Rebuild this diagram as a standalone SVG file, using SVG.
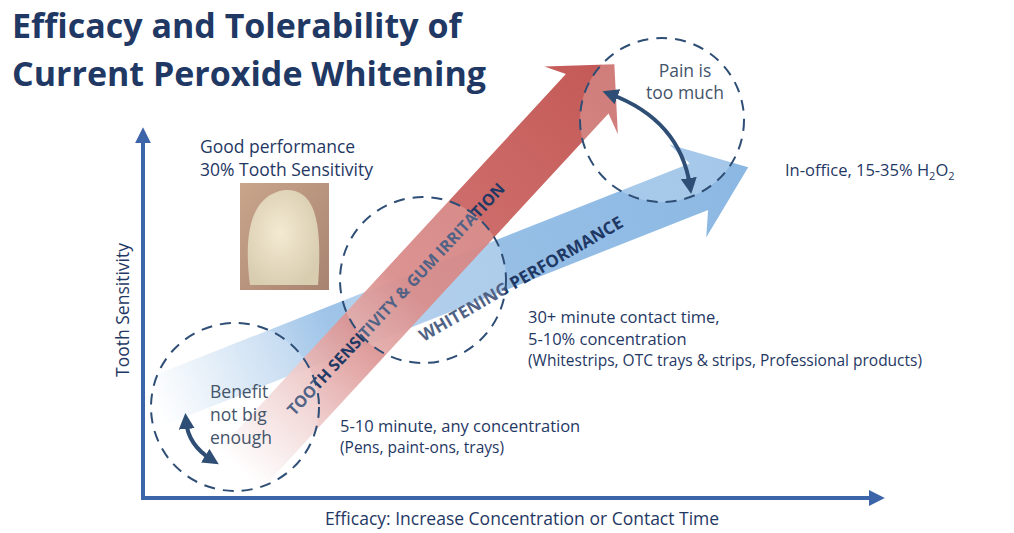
<svg xmlns="http://www.w3.org/2000/svg" width="1014" height="533" viewBox="0 0 1014 533">
<style>
.t{font-family:"Open Sans","Noto Sans",sans-serif;fill:#1f3864}
.g{font-family:"Open Sans","Noto Sans",sans-serif;fill:#44546a}
.c{fill:#ffffff;fill-opacity:0.22;stroke:#2f4e75;stroke-width:2;stroke-dasharray:11 8}
.d{fill:none;stroke:#2f4e75;stroke-width:4;marker-start:url(#m);marker-end:url(#m)}
</style>
<defs>
<linearGradient id="rg" x1="0" y1="0" x2="552" y2="0" gradientUnits="userSpaceOnUse"><stop offset="0" stop-color="#ffffff"/><stop offset="0.45" stop-color="#cf6e6c"/><stop offset="1" stop-color="#c0504d"/></linearGradient>
<linearGradient id="bg" x1="0" y1="0" x2="638" y2="0" gradientUnits="userSpaceOnUse"><stop offset="0" stop-color="#ffffff"/><stop offset="0.3" stop-color="#9fc4e8"/><stop offset="1" stop-color="#8bb8e3"/></linearGradient>
<linearGradient id="tooth" x1="0" y1="0" x2="1" y2="1"><stop offset="0" stop-color="#c9a58c"/><stop offset="1" stop-color="#a88470"/></linearGradient>
<radialGradient id="te" cx="0.45" cy="0.45" r="0.6"><stop offset="0" stop-color="#f3ead2"/><stop offset="1" stop-color="#d9cdb0"/></radialGradient>
<marker id="m" viewBox="0 0 10 10" refX="5" refY="5" markerWidth="4" markerHeight="4" orient="auto-start-reverse"><path d="M0,0 L10,5 L0,10 z" fill="#2f4e75"/></marker>
<marker id="ax" viewBox="0 0 10 10" refX="2" refY="5" markerWidth="4" markerHeight="4" orient="auto"><path d="M0,0 L10,5 L0,10 z" fill="#3c64a8"/></marker>
</defs>
<rect width="1014" height="533" fill="#ffffff"/>
<text class="t" x="12" y="38" font-size="34" font-weight="bold">Efficacy and Tolerability of</text>
<text class="t" x="12" y="86" font-size="34" font-weight="bold">Current Peroxide Whitening</text>
<g id="axes">
<line x1="143" y1="498" x2="143" y2="140" stroke="#3c64a8" stroke-width="4" marker-end="url(#ax)"/>
<line x1="141" y1="498" x2="872" y2="498" stroke="#3c64a8" stroke-width="4" marker-end="url(#ax)"/>
<text class="t" x="0" y="0" font-size="17.5" text-anchor="middle" transform="translate(129,310) rotate(-90)">Tooth Sensitivity</text>
<text class="t" x="522" y="525" font-size="17.5" text-anchor="middle">Efficacy: Increase Concentration or Contact Time</text>
</g>
<g id="blue-arrow">
<polygon transform="translate(155,402) rotate(-21.6)" points="0,-25 585,-25 573,-50 638,0 573,50 585,25 0,25" fill="url(#bg)"/>
<text class="t" font-size="17" font-weight="bold" text-anchor="middle" transform="translate(524,284) rotate(-30)">WHITENING PERFORMANCE</text>
</g>
<g id="red-arrow">
<polygon transform="translate(240,470) rotate(-47.3)" points="0,-29 512,-29 503,-50 552,0 503,50 512,29 0,29" fill="url(#rg)" fill-opacity="0.95"/>
<text class="t" font-size="16" font-weight="bold" text-anchor="middle" transform="translate(400,303) rotate(-47)">TOOTH SENSITIVITY &amp; GUM IRRITATION</text>
</g>
<g id="tooth-img">
<rect x="240" y="183" width="89" height="107" fill="url(#tooth)"/>
<path d="M250,285 C244,240 248,195 285,190 C318,188 322,230 318,285 Z" fill="url(#te)"/>
<text class="t" x="200" y="153" font-size="17.5">Good performance</text>
<text class="t" x="200" y="176" font-size="17.5">30% Tooth Sensitivity</text>
</g>
<g id="circle-low">
<circle class="c" cx="235" cy="407" r="84"/>
<text class="g" x="210" y="398" font-size="17.5">Benefit</text>
<text class="g" x="210" y="421" font-size="17.5">not big</text>
<text class="g" x="210" y="444" font-size="17.5">enough</text>
</g>
<g id="circle-mid"><circle class="c" cx="423" cy="280" r="83"/></g>
<g id="circle-high">
<circle class="c" cx="662" cy="120" r="82"/>
<text class="g" x="685" y="77" font-size="17.5" text-anchor="middle">Pain is</text>
<text class="g" x="685" y="99" font-size="17.5" text-anchor="middle">too much</text>
</g>
<g id="connectors">
<path class="d" d="M186,421 Q188,445 212,460"/>
<path class="d" d="M610,94 Q680,120 690,186"/>
</g>
<g id="labels">
<text class="t" x="785" y="176" font-size="16.5">In-office, 15-35% H<tspan font-size="11" dy="4">2</tspan><tspan dy="-4">O</tspan><tspan font-size="11" dy="4">2</tspan></text>
<text class="t" x="528" y="323" font-size="16.5">30+ minute contact time,</text>
<text class="t" x="528" y="345" font-size="16.5">5-10% concentration</text>
<text class="t" x="528" y="366" font-size="15.5">(Whitestrips, OTC trays &amp; strips, Professional products)</text>
<text class="t" x="340" y="432" font-size="16.5">5-10 minute, any concentration</text>
<text class="t" x="340" y="453" font-size="15.5">(Pens, paint-ons, trays)</text>
</g>
</svg>
